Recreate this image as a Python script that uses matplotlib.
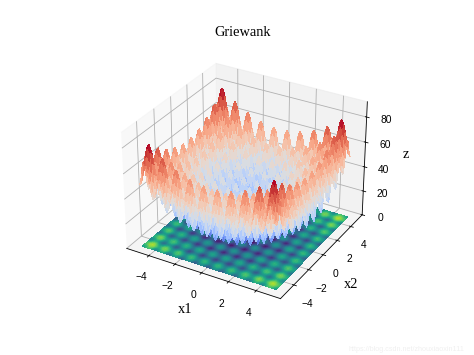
import numpy as np
import matplotlib
matplotlib.use("Agg")
import matplotlib.pyplot as plt

title = "Griewank"
x_label = "x1"
y_label = "x2"
z_label = "z"
watermark = "https://blog.csdn.net/zhouxiaoxin111"

x_ticks = [-4, -2, 0, 2, 4]
y_ticks = [-4, -2, 0, 2, 4]
z_ticks = [0, 20, 40, 60, 80]

# height profile along one axis, from 0 out to 5 in steps of 0.125
half_positions = [
    0, 0.125, 0.25, 0.375, 0.5, 0.625, 0.75, 0.875, 1, 1.125, 1.25, 1.375, 1.5, 1.625,
    1.75, 1.875, 2, 2.125, 2.25, 2.375, 2.5, 2.625, 2.75, 2.875, 3, 3.125, 3.25, 3.375,
    3.5, 3.625, 3.75, 3.875, 4, 4.125, 4.25, 4.375, 4.5, 4.625, 4.75, 4.875, 5,
]
half_profile = [
    0, 2.9, 10, 17.2, 20.2, 17.5, 10.6, 3.7, 1, 4.2, 11.6, 19, 22.2, 19.7,
    13, 6.5, 4, 7.5, 15, 22.7, 26.2, 24, 17.6, 11.2, 9, 12.7, 20.6, 28.5,
    32.2, 30.2, 24, 18, 16, 20, 28, 36.2, 40.2, 38.5, 32.6, 26.7, 25,
]

pos = np.array(half_positions)
prof = np.array(half_profile)
axis_pos = np.concatenate([-pos[:0:-1], pos])
axis_prof = np.concatenate([prof[:0:-1], prof])

X, Y = np.meshgrid(axis_pos, axis_pos)
Z = axis_prof[:, None] + axis_prof[None, :]

plt.rcParams["font.family"] = ["Liberation Sans", "DejaVu Sans"]
serif = "Liberation Serif"

fig = plt.figure(figsize=(6.4, 4.8), dpi=74.0625)
ax = fig.add_subplot(projection="3d")

ax.plot_surface(X, Y, Z, rstride=1, cstride=1, cmap="coolwarm", linewidth=0, antialiased=False)
ax.contourf(X, Y, Z, levels=40, zdir="z", offset=0, cmap="viridis", vmin=0, vmax=92)

ax.set_xticks(x_ticks)
ax.set_yticks(y_ticks)
ax.set_zticks(z_ticks)
ax.tick_params(labelsize=10)
ax.set_zlim(0, 92)

ax.set_xlabel(x_label, family=serif, fontsize=14)
ax.set_ylabel(y_label, family=serif, fontsize=14)
ax.set_zlabel(z_label, family=serif, fontsize=14)
ax.set_title(title, family=serif, fontsize=14)

fig.text(0.98, 0.012, watermark, ha="right", fontsize=7, color="#f0f0f0")

plt.savefig("out.png")
